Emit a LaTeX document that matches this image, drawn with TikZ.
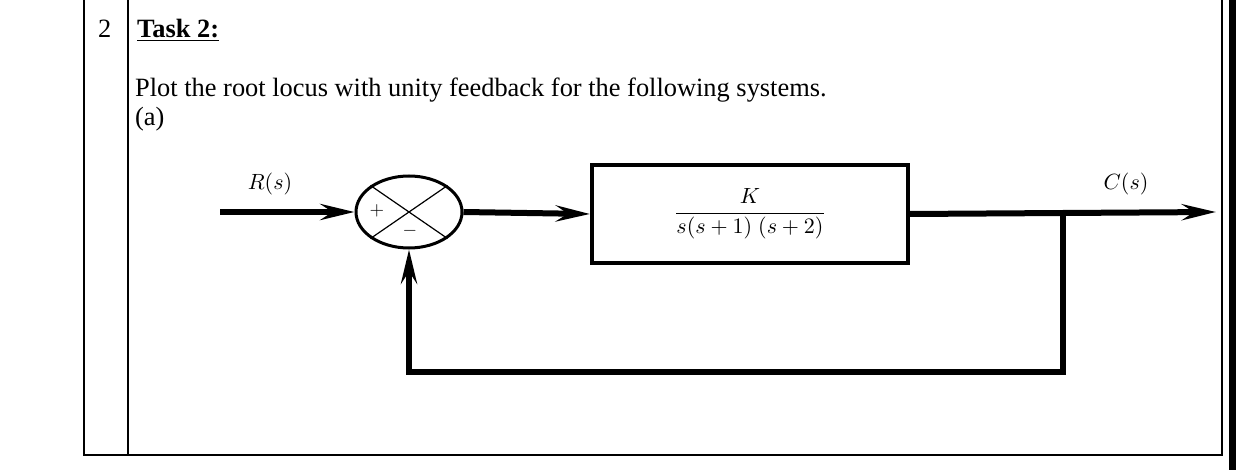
\documentclass[tikz,border=0pt]{standalone}
\usepackage{fontspec}
\setmainfont{Liberation Serif}
\usetikzlibrary{arrows.meta,shapes.geometric}
\begin{document}
\begin{tikzpicture}[x=1pt,y=-1pt,
  sig/.style={line width=6pt,-{Stealth[length=34pt,width=16pt,inset=12pt]}},
  fb/.style={line width=6pt},
  tbl/.style={line width=1.8pt},
  txt/.style={anchor=base west,inner sep=0pt,font=\fontsize{26.4}{30}\selectfont},
  mth/.style={scale=2.2,transform shape}]
\useasboundingbox (0,0) rectangle (1236,470);
\fill (1229,0) rectangle (1236,470);
\draw[tbl] (84,0) -- (84,455) -- (1222,455) -- (1222,0);
\draw[tbl] (128,0) -- (128,455);
\node[txt] (num) at (98,38) {2};
\node[txt] (task) at (137,38) {\textbf{\underline{Task 2:}}};
\node[txt] (plot) at (135,97) {Plot the root locus with unity feedback for the following systems.};
\node[txt] (a) at (135,126) {(a)};
\node[draw,line width=3pt,ellipse,minimum width=106pt,minimum height=72pt,inner sep=0pt] (sum) at (409,212) {};
\draw[line width=1.2pt] (sum.north west) -- (sum.south east) (sum.north east) -- (sum.south west);
\node[mth,scale=0.85] (plus) at (377,211) {$+$};
\node[mth,scale=0.85] (minus) at (410,231) {$-$};
\node[draw,line width=4pt,minimum width=316pt,minimum height=98pt,anchor=north west,inner sep=0pt] (G) at (590,163) {};
\node[mth] (frac) at (G.center) {$\displaystyle\frac{K}{s(s+1)\;(s+2)}$};
\node[mth] (R) at (270,184) {$R(s)$};
\node[mth] (C) at (1126,184) {$C(s)$};
\coordinate (in) at (220,212);
\coordinate (out) at (1216,212);
\coordinate (br) at (1063,212);
\coordinate (c1) at (1063,372);
\coordinate (c2) at (409,372);
\draw[sig] (in) -- (sum.west);
\draw[sig] (sum.east) -- (G.west);
\draw[sig] (G.east) -- (out);
\draw[fb,line join=miter] (br) -- (c1) -- (c2) -- (409,300);
\draw[sig] (409,300) -- (sum.south);
\end{tikzpicture}
\end{document}
